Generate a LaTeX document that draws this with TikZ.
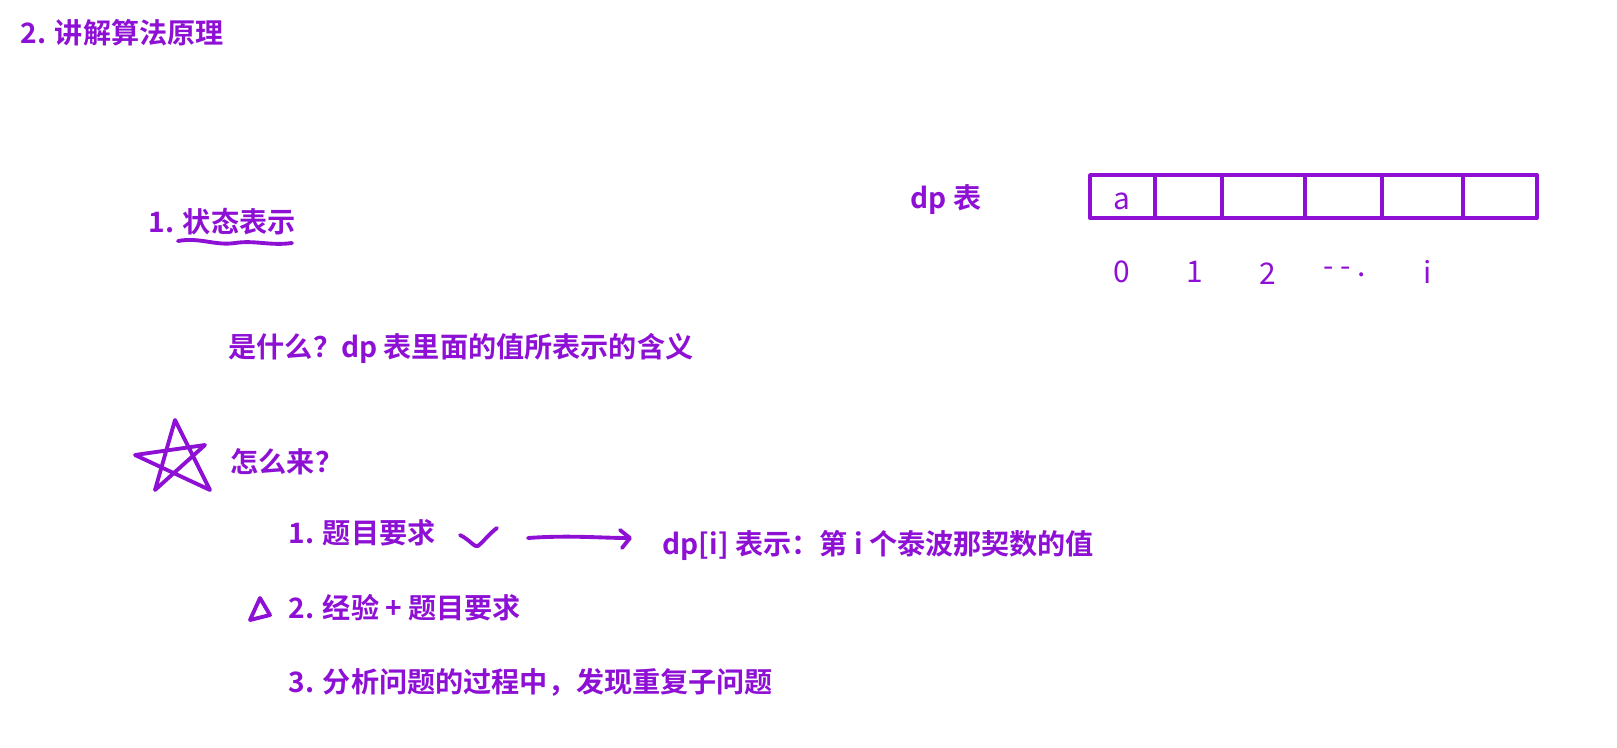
\documentclass[tikz,border=0pt]{standalone}
\usepackage{fontspec}
\setmainfont{Noto Sans CJK SC}[BoldFont={Noto Sans CJK SC Bold}]
\definecolor{pp}{HTML}{8E10D4}
\begin{document}
\begin{tikzpicture}[x=0.01cm,y=-0.01cm,
  txt/.style={anchor=west,inner sep=0,text=pp,font=\bfseries\fontsize{8}{9}\selectfont},
  ink/.style={draw=pp,line width=1.1pt,line cap=round,line join=round},
  lbl/.style={inner sep=0,text=pp,font=\fontsize{8.5}{9}\selectfont}]
\useasboundingbox (0,0) rectangle (1617,748);
\node[txt] (t0) at (20,33) {2. 讲解算法原理};
\node[txt] (t1) at (148,222) {1. 状态表示};
\draw[ink] (178,241) .. controls (200,237) and (215,246) .. (235,243) .. controls (255,240) and (270,246) .. (292,243);
\node[txt] (dp) at (910,200) {dp 表};
\draw[ink] (1090,175) rectangle (1537,218);
\foreach \x in {1155,1222,1305,1382,1463} \draw[ink] (\x,176) -- (\x,218);
\node[lbl] (a) at (1122,201) {a};
\node[lbl] (n0) at (1122,272) {0};
\node[lbl] (n1) at (1195,272) {1};
\node[lbl] (n2) at (1268,274) {2};
\node[lbl] (nd) at (1345,272) {- - .};
\node[lbl] (ni) at (1428,272) {i};
\node[txt] (q) at (228,348) {是什么？dp 表里面的值所表示的含义};
\draw[ink] (155,490) -- (175,420) -- (210,490) -- (135,455) -- (205,445) -- cycle;
\node[txt] (h) at (230,462) {怎么来？};
\node[txt] (s1) at (288,533) {1. 题目要求};
\draw[ink] (460,535) .. controls (470,540) and (475,548) .. (478,546) .. controls (485,540) and (490,533) .. (497,528);
\coordinate (ac) at (528,538);
\node[txt] (r) at (662,545) {dp[i] 表示：第 i 个泰波那契数的值};
\draw[ink] (ac) .. controls (570,535) and (600,538) .. (628,538);
\draw[ink] (620,530) -- (630,538) -- (622,548);
\draw[ink] (250,620) -- (260,598) -- (270,615) -- cycle;
\node[txt] (s2) at (288,608) {2. 经验 + 题目要求};
\node[txt] (s3) at (288,682) {3. 分析问题的过程中，发现重复子问题};
\end{tikzpicture}
\end{document}
